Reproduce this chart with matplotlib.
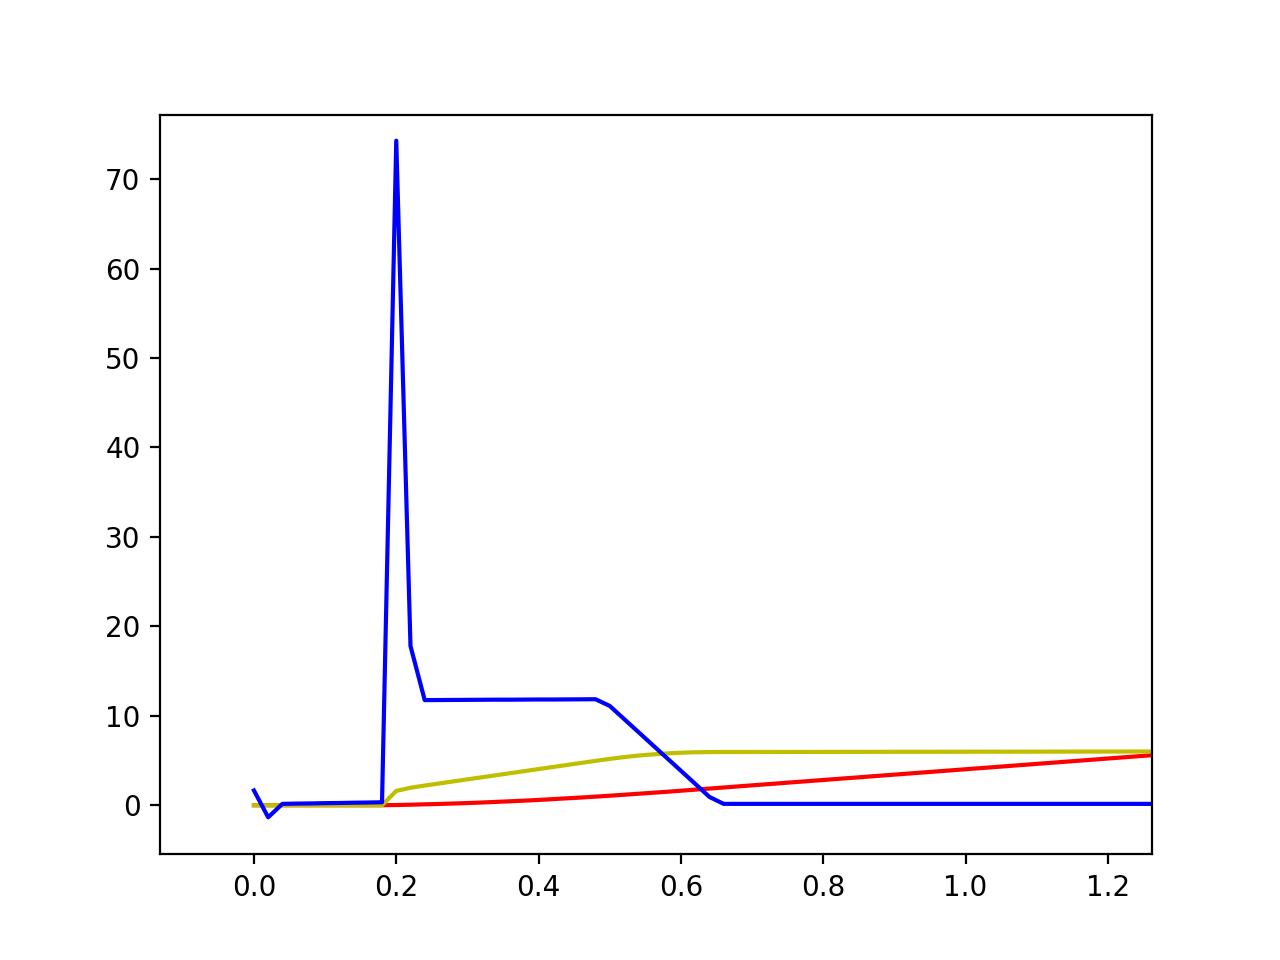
import numpy as np
import matplotlib
matplotlib.use("Agg")
import matplotlib.pyplot as plt

# time samples (dense up to 0.66, then only where the lines are straight)
t = [0.00, 0.02, 0.04, 0.06, 0.08, 0.10, 0.12, 0.14, 0.16, 0.18,
     0.20, 0.22, 0.24, 0.26, 0.28, 0.30, 0.32, 0.34, 0.36, 0.38,
     0.40, 0.42, 0.44, 0.46, 0.48, 0.50, 0.52, 0.54, 0.56, 0.58,
     0.60, 0.62, 0.64, 0.66, 0.80, 1.00, 1.20, 1.30]

# position (red)
pos = [0.00, 0.00, 0.00, 0.00, 0.00, 0.00, 0.00, 0.00, 0.00, 0.00,
       0.02, 0.055, 0.10, 0.14, 0.19, 0.24, 0.30, 0.37, 0.44, 0.51,
       0.59, 0.68, 0.77, 0.86, 0.96, 1.06, 1.17, 1.28, 1.39, 1.50,
       1.62, 1.74, 1.86, 1.98, 2.82, 4.02, 5.22, 5.82]

# velocity (yellow)
vel = [0.00, 0.00, 0.00, 0.00, 0.00, 0.00, 0.00, 0.00, 0.00, 0.00,
       1.60, 1.95, 2.20, 2.43, 2.66, 2.89, 3.12, 3.35, 3.58, 3.81,
       4.04, 4.27, 4.50, 4.73, 4.96, 5.18, 5.38, 5.55, 5.68, 5.79,
       5.87, 5.92, 5.94, 5.95, 5.96, 5.98, 6.00, 6.01]

# acceleration (blue)
acc = [1.65, -1.35, 0.15, 0.18, 0.20, 0.23, 0.25, 0.28, 0.30, 0.33,
       74.3, 17.8, 11.75, 11.76, 11.77, 11.78, 11.79, 11.80, 11.80, 11.81,
       11.82, 11.82, 11.83, 11.84, 11.85, 11.10, 9.65, 8.20, 6.75, 5.30,
       3.85, 2.40, 0.93, 0.15, 0.15, 0.15, 0.15, 0.15]

fig, ax = plt.subplots(figsize=(6.4, 4.8), dpi=200)
ax.plot(t, pos, 'r')
ax.plot(t, vel, 'y')
ax.plot(t, acc, 'b')
ax.set_xlim(-0.132, 1.262)
ax.set_ylim(-5.5, 77.15)

fig.savefig("out.png")
